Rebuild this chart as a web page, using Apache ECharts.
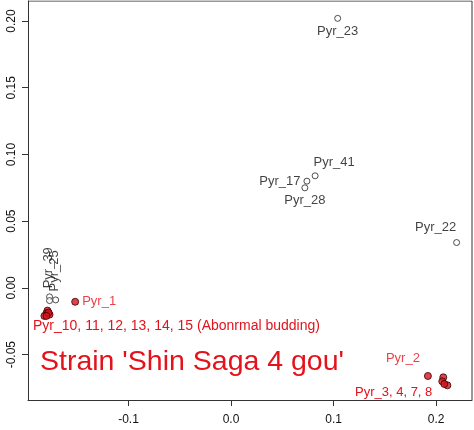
<!DOCTYPE html><html><head><meta charset="utf-8"><script src="https://cdn.jsdelivr.net/npm/echarts@6/dist/echarts.min.js"></script></head><body style="margin:0"><div id="c" style="width:474px;height:430px"></div><script>
const openPts=[["Pyr_23",0.104,0.202,"bottom"],["Pyr_41",0.082,0.084,"topR"],["Pyr_17",0.074,0.080,"left"],["Pyr_28",0.072,0.075,"bottom"],["Pyr_22",0.220,0.034,"topL2"],["Pyr_39",-0.177,-0.0067,"vert"],["Pyr_25",-0.171,-0.009,"vert"],["",-0.177,-0.0095,""]];
const redPts=[["Pyr_1",-0.152,-0.0104,"right"],["",-0.179,-0.017,""],["",-0.180,-0.019,""],["",-0.182,-0.021,""],["",-0.177,-0.020,""],["",-0.178,-0.0185,""],["",-0.180,-0.021,""],["Pyr_2",0.192,-0.066,"topL"],["",0.207,-0.067,""],["",0.206,-0.070,""],["",0.211,-0.073,""],["",0.208,-0.072,""]];
const xTicks=[-0.1,0.0,0.1,0.2], yTicks=[-0.05,0.00,0.05,0.10,0.15,0.20];
const RED='#e3121b';
function lab(p,color){const n=p[0],pos=p[3];if(!n)return {show:false};
 const base={show:true,formatter:n,color:color,fontSize:13,fontFamily:'Liberation Sans'};
 if(pos==='vert')return Object.assign(base,{rotate:90,position:[2,-5],align:'left',verticalAlign:'middle'});
 if(pos==='topR')return Object.assign(base,{position:[2,-16],align:'left'});
 if(pos==='topL')return Object.assign(base,{position:[-38,-20],align:'left'});
 if(pos==='topL2')return Object.assign(base,{position:[-38,-18],align:'left'});
 return Object.assign(base,{position:pos,distance:3});}
const ch=echarts.init(document.getElementById('c'));
ch.setOption({animation:false,
grid:{left:28,right:2,top:1,bottom:30},
xAxis:{type:'value',min:-0.198,max:0.235,splitLine:{show:false},axisLine:{onZero:false,lineStyle:{color:'#333'}},
 axisLabel:{color:'#111',fontSize:12,fontFamily:'Liberation Sans',margin:14,customValues:xTicks,formatter:v=>v.toFixed(1)},axisTick:{customValues:xTicks,length:6,lineStyle:{color:'#333'}}},
yAxis:{type:'value',min:-0.084,max:0.215,splitLine:{show:false},axisLine:{onZero:false,lineStyle:{color:'#333'}},
 axisLabel:{color:'#111',fontSize:12,fontFamily:'Liberation Sans',rotate:90,margin:10,customValues:yTicks,formatter:v=>v.toFixed(2)},axisTick:{customValues:yTicks,length:6,lineStyle:{color:'#333'}}},
series:[
{type:'scatter',symbolSize:6,itemStyle:{color:'#fff',borderColor:'#222',borderWidth:1},data:openPts.map(p=>({value:[p[1],p[2]],label:lab(p,'#111')}))},
{type:'scatter',symbolSize:7,itemStyle:{color:'#d9141e',borderColor:'#300',borderWidth:1},data:redPts.map(p=>({value:[p[1],p[2]],label:lab(p,RED)}))},
{type:'line',data:[[-0.198,0.215],[0.235,0.215],[0.235,-0.084]],symbol:'none',lineStyle:{color:'#333',width:1},silent:true}
],
graphic:[
{type:'text',left:33,top:319,style:{text:'Pyr_10, 11, 12, 13, 14, 15 (Abonrmal budding)',fill:RED,font:'14px Liberation Sans'}},
{type:'text',left:40,top:348,style:{text:"Strain 'Shin Saga 4 gou'",fill:RED,font:'28.5px Liberation Sans'}},
{type:'text',left:355,top:386,style:{text:'Pyr_3, 4, 7, 8',fill:RED,font:'13px Liberation Sans'}}
]});
</script></body></html>
